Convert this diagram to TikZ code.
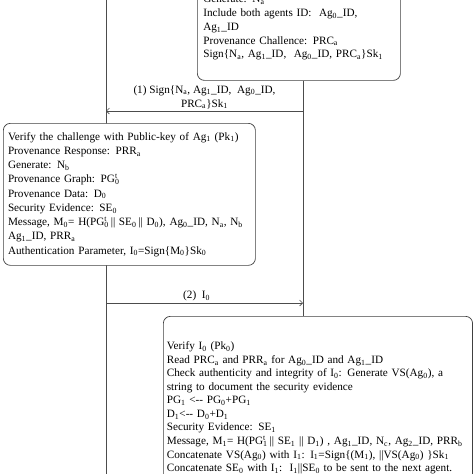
\documentclass[tikz,border=0pt]{standalone}
\usepackage{fontspec}
\setmainfont{Liberation Serif}
\usetikzlibrary{positioning, arrows.meta}
\newcommand{\lo}[1]{\textsubscript{#1}}
\newcommand{\losup}[2]{\rlap{\textsuperscript{#1}}\textsubscript{#2}}

\begin{document}
\begin{tikzpicture}[
  x=0.857pt, y=-0.857pt,
  box/.style={rectangle, rounded corners=6pt, draw=black!75, line width=0.6pt,
              fill=white, anchor=north west, align=left},
  life/.style={draw=black!70, line width=0.6pt},
  msg/.style={-{Straight Barb[length=2.5pt, width=5pt]}, draw=black!70, line width=0.6pt},
  lbl/.style={font=\fontsize{9.6}{12}\selectfont, align=center, inner sep=1.5pt},
]
\useasboundingbox (0,0) rectangle (474,474);
% Lebenslinien
\coordinate (lline) at (106,0);
\coordinate (lend)  at (106,474);
\coordinate (rline) at (303,0);
\draw[life] (lline) -- (lend);
% Kasten oben (Ag1)
\node[box, font=\fontsize{9.6}{11.8}\selectfont, minimum width=174pt,
      minimum height=90pt, text width=163.8pt, inner xsep=5.1pt] (chal) at (197,-25)
  {Generate: N\lo{a}\\
   Include both agents ID:\ \ Ag\lo{0}\_ID,\\
   Ag\lo{1}\_ID\\
   Provenance Challence: PRC\lo{a}\\
   Sign\{N\lo{a}, Ag\lo{1}\_ID,\ \ Ag\lo{0}\_ID, PRC\lo{a}\}Sk\lo{1}};
% Kasten links (Ag0)
\node[box, font=\fontsize{9.6}{12.2}\selectfont, minimum width=216pt,
      minimum height=121.7pt, text width=208pt, inner xsep=4pt] (resp) at (3,123)
  {Verify the challenge with Public-key of Ag\lo{1} (Pk\lo{1})\\
   Provenance Response: PRR\lo{a}\\
   Generate: N\lo{b}\\
   Provenance Graph: PG\losup{t}{0}\\
   Provenance Data: D\lo{0}\\
   Security Evidence: SE\lo{0}\\
   Message, M\lo{0}= H(PG\losup{t}{0}\,|| SE\lo{0}\,|| D\lo{0}), Ag\lo{0}\_ID, N\lo{a}, N\lo{b}\\
   Ag\lo{1}\_ID, PRR\lo{a}\\
   Authentication Parameter, I\lo{0}=Sign\{M\lo{0}\}Sk\lo{0}};
% Kasten unten (Ag1)
\node[box, font=\fontsize{9.6}{11.6}\selectfont, minimum width=264.8pt,
      minimum height=157pt, text width=259pt, inner xsep=3pt] (verif) at (163,316)
  {Verify I\lo{0} (Pk\lo{0})\\
   Read PRC\lo{a} and PRR\lo{a} for Ag\lo{0}\_ID and Ag\lo{1}\_ID\\
   Check authenticity and integrity of I\lo{0}: Generate VS(Ag\lo{0}), a\\
   string to document the security evidence\\
   PG\lo{1} <-{}- PG\lo{0}+PG\lo{1}\\
   D\lo{1}<-{}- D\lo{0}+D\lo{1}\\
   Security Evidence: SE\lo{1}\\
   Message, M\lo{1}= H(PG\losup{t}{1}\,|| SE\lo{1} || D\lo{1}) , Ag\lo{1}\_ID, N\lo{c}, Ag\lo{2}\_ID, PRR\lo{b}\\
   Concatenate VS(Ag\lo{0}) with I\lo{1}: I\lo{1}=Sign\{(M\lo{1}), ||VS(Ag\lo{0}) \}Sk\lo{1}\\
   Concatenate SE\lo{0} with I\lo{1}:\ \ I\lo{1}||SE\lo{0} to be sent to the next agent.};
\draw[life] (chal.south -| rline) -- (verif.north -| rline);
% Nachrichten
\coordinate (m1s) at (303,111);
\coordinate (m1e) at (106,111);
\coordinate (m2s) at (106,303);
\coordinate (m2e) at (303,303);
\draw[msg] (m1s) -- node[lbl, above] {(1) Sign\{N\lo{a}, Ag\lo{1}\_ID,\ \ Ag\lo{0}\_ID,\\ PRC\lo{a}\}Sk\lo{1}} (m1e);
\draw[msg] (m2s) -- node[lbl, above, pos=0.46] {(2)\ \ I\lo{0}} (m2e);
\end{tikzpicture}
\end{document}
